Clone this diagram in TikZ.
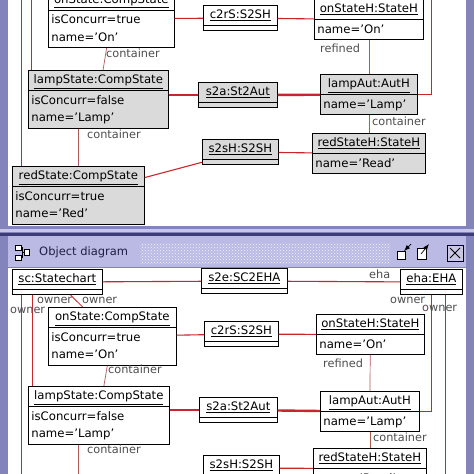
\documentclass[tikz,border=0pt]{standalone}
\usepackage{fontspec}
\setmainfont{DejaVu Sans}
\usepackage{tikz}
\usetikzlibrary{arrows.meta,positioning,calc,shapes.multipart,patterns}
\usepackage{xcolor}
\definecolor{framec}{RGB}{132,132,188}
\definecolor{framedark}{RGB}{60,60,118}
\definecolor{framelight}{RGB}{200,200,228}
\definecolor{titlec}{RGB}{186,186,228}
\definecolor{dotc}{RGB}{246,246,255}
\definecolor{titletext}{RGB}{30,30,70}
\definecolor{objgrey}{RGB}{218,218,218}
\definecolor{linkred}{RGB}{200,38,44}
\definecolor{ctnred}{RGB}{176,90,90}
\definecolor{lblgrey}{RGB}{78,78,78}
\setlength{\parindent}{0pt}
\newcommand{\objfont}{\fontsize{11.7}{17.5}\selectfont}
\newcommand{\ttl}[1]{\hfill\underline{#1}\hfill\strut}
\newcommand{\att}[1]{#1\strut}
\newcommand{\nix}{\rule{0pt}{2.5pt}}
\tikzset{
  obj/.style={draw=black,line width=0.7pt,fill=white,rectangle split,rectangle split parts=2,
    anchor=north west,inner xsep=3pt,inner ysep=1pt,font=\objfont},
  greyobj/.style={obj,fill=objgrey},
  lnk/.style={draw=linkred,line width=1.1pt},
  ownlnk/.style={draw=linkred,line width=0.8pt},
  fatlnk/.style={draw=linkred,line width=2.4pt},
  ctn/.style={draw=ctnred,line width=0.7pt},
  lbl/.style={font=\fontsize{11.3}{13}\selectfont,text=lblgrey,inner sep=0pt,anchor=west}
}

\begin{document}
\begin{tikzpicture}[x=1pt,y=-1pt,>=Latex]
  \useasboundingbox (0,0) rectangle (474,474);
  \fill[framec] (0,0) rectangle (474,474);
  \fill[white] (8,0) rectangle (466,226);
  \fill[framelight] (0,229) rectangle (474,232);
  \fill[framedark] (0,233) rectangle (474,236);
  \fill[titlec] (8,236) rectangle (466,267);
  \fill[pattern=crosshatch dots,pattern color=dotc] (140,243) rectangle (390,263);
  \fill[white] (8,268) rectangle (466,474);

  \draw[black,line width=0.6pt,fill=white] (15,245) rectangle (21,250) (15,255) rectangle (21,260) (24,249) rectangle (29,255);
  \draw[black,line width=0.6pt] (21,247.5) -- (22.5,247.5) -- (22.5,257.5) -- (21,257.5) (22.5,252) -- (24,252);
  \node[font=\fontsize{11.5}{13}\selectfont,text=titletext,anchor=west,inner sep=0pt] (title) at (39,252.5) {Object diagram};
  \draw[black,line width=0.7pt,fill=white] (397,251) rectangle (405,259);
  \draw[black,line width=0.7pt,->] (411,244) -- (404,251);
  \draw[black,line width=0.7pt,fill=white] (417,248) rectangle (426,259);
  \draw[black,line width=0.7pt,->] (421,254) -- (429,244);
  \draw[black,line width=0.7pt,fill=framelight] (447,245) rectangle (463,261);
  \draw[black,line width=0.8pt] (450,248) -- (460,258) (460,248) -- (450,258);

  \begin{scope}
    \clip (8,0) rectangle (466,226);
    \node[obj,text width=120pt] (onStateA) at (48,-10.5) {\ttl{onState:CompState}\nodepart{two}\att{isConcurr=true}\\\att{name='On'}};
    \node[obj,text width=68pt] (c2rSA) at (203,5) {\ttl{c2rS:S2SH}\nodepart{two}\nix};
    \node[obj,text width=103pt] (onStateHA) at (314,-1) {\ttl{onStateH:StateH}\nodepart{two}\att{name='On'}};
    \node[greyobj,text width=134pt] (lampStateA) at (28,70) {\ttl{lampState:CompState}\nodepart{two}\att{isConcurr=false}\\\att{name='Lamp'}};
    \node[greyobj,text width=73pt] (s2aA) at (198,82) {\ttl{s2a:St2Aut}\nodepart{two}\nix};
    \node[greyobj,text width=91pt] (lampAutA) at (320,74) {\ttl{lampAut:AutH}\nodepart{two}\att{name='Lamp'}};
    \node[greyobj,text width=107pt] (redStateHA) at (312,133) {\ttl{redStateH:StateH}\nodepart{two}\att{name='Read'}};
    \node[greyobj,text width=70pt] (s2sHA) at (202,139) {\ttl{s2sH:S2SH}\nodepart{two}\nix};
    \node[greyobj,text width=126pt] (redStateA) at (12,166) {\ttl{redState:CompState}\nodepart{two}\att{isConcurr=true}\\\att{name='Red'}};

    \draw[lnk] (onStateA) -- (c2rSA);
    \draw[lnk] (c2rSA) -- (onStateHA);
    \draw[fatlnk] (s2aA.west -| lampStateA.east) -- (s2aA.west);
    \draw[fatlnk] (s2aA) -- (lampAutA);
    \draw[lnk] (redStateA) -- (s2sHA);
    \draw[lnk] (s2sHA) -- (redStateHA);
    \draw[ctn] (onStateA) -- (lampStateA);
    \draw[ctn] (redStateA.north) -- (redStateA.north |- lampStateA.south);
    \draw[ctn] (onStateHA) -- (lampAutA);
    \draw[ctn] (lampAutA) -- (redStateHA);
    \draw[ownlnk] (21,-5) -- (21,0 |- redStateA.north);
    \draw[ownlnk] (31,-5) -- (31,0 |- lampStateA.north);
    \draw[ownlnk] (lampAutA.east) -| (431,-5);

    \node[lbl] (ctnA1) at (106,53) {container};
    \node[lbl] (ctnA2) at (87,134) {container};
    \node[lbl] (refA) at (320,48) {refined};
    \node[lbl] (ctnA3) at (372,121) {container};
  \end{scope}

  \begin{scope}
    \clip (8,268) rectangle (466,474);
    \node[obj,text width=84pt] (scB) at (12,269) {\ttl{sc:Statechart}\nodepart{two}\nix};
    \node[obj,text width=80pt] (s2eB) at (201,268) {\ttl{s2e:SC2EHA}\nodepart{two}\nix};
    \node[obj,text width=56pt] (ehaB) at (400,269) {\ttl{eha:EHA}\nodepart{two}\nix};
    \node[obj,text width=122pt] (onStateB) at (48,307) {\ttl{onState:CompState}\nodepart{two}\att{isConcurr=true}\\\att{name='On'}};
    \node[obj,text width=68pt] (c2rSB) at (204,321) {\ttl{c2rS:S2SH}\nodepart{two}\nix};
    \node[obj,text width=102pt] (onStateHB) at (316,314) {\ttl{onStateH:StateH}\nodepart{two}\att{name='On'}};
    \node[obj,text width=135pt] (lampStateB) at (28,386) {\ttl{lampState:CompState}\nodepart{two}\att{isConcurr=false}\\\att{name='Lamp'}};
    \node[obj,text width=72pt] (s2aB) at (199,397) {\ttl{s2a:St2Aut}\nodepart{two}\nix};
    \node[obj,text width=93pt] (lampAutB) at (320,391) {\ttl{lampAut:AutH}\nodepart{two}\att{name='Lamp'}};
    \node[obj,text width=107pt] (redStateHB) at (313,448) {\ttl{redStateH:StateH}\nodepart{two}\att{name='Read'}};
    \node[obj,text width=70pt] (s2sHB) at (203,455) {\ttl{s2sH:S2SH}\nodepart{two}\nix};

    \draw[lnk] (scB) -- (s2eB);
    \draw[lnk] (s2eB) -- (ehaB);
    \draw[ownlnk] (scB) -- (onStateB);
    \draw[ownlnk] (21,0 |- scB.south) -- (21,482);
    \draw[ownlnk] (32,0 |- scB.south) -- (32,0 |- lampStateB.north);
    \draw[ownlnk] (lampAutB.east) -| (ehaB.south);
    \draw[ownlnk] (445,0 |- ehaB.south) -- (445,482);
    \draw[lnk] (onStateB) -- (c2rSB);
    \draw[lnk] (c2rSB) -- (onStateHB);
    \draw[fatlnk] (s2aB.west -| lampStateB.east) -- (s2aB.west);
    \draw[fatlnk] (s2aB) -- (lampAutB);
    \draw[lnk] (s2sHB) -- (redStateHB);
    \draw[ctn] (onStateB) -- (lampStateB);
    \draw[ctn] (78,0 |- lampStateB.south) -- (78,482);
    \draw[ctn] (onStateHB) -- (lampAutB);
    \draw[ctn] (lampAutB) -- (redStateHB);

    \node[lbl] (ehaLbl) at (369,274) {eha};
    \node[lbl] (ownB1) at (37,300) {owner};
    \node[lbl] (ownB2) at (82,300) {owner};
    \node[lbl] (ownB3) at (10,310) {owner};
    \node[lbl] (ownB4) at (390,300) {owner};
    \node[lbl] (ownB5) at (422,308) {owner};
    \node[lbl] (ctnB1) at (108,369) {container};
    \node[lbl] (refB) at (323,363) {refined};
    \node[lbl] (ctnB2) at (87,449) {container};
    \node[lbl] (ctnB3) at (373,437) {container};
  \end{scope}
\end{tikzpicture}
\end{document}
